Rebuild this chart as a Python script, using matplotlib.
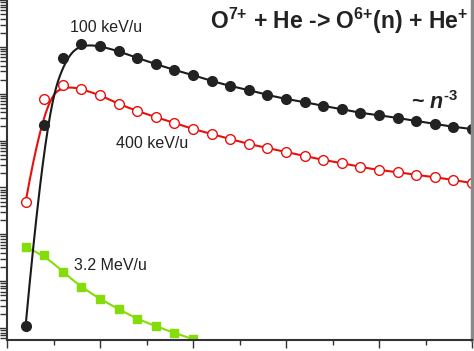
import numpy as np
import matplotlib
matplotlib.use("Agg")
import matplotlib.pyplot as plt
from matplotlib.ticker import MultipleLocator, LogLocator, NullFormatter

plt.rcParams['font.family'] = ['Liberation Sans', 'DejaVu Sans']
plt.rcParams['mathtext.fontset'] = 'custom'
plt.rcParams['mathtext.rm'] = 'Liberation Sans:bold'
plt.rcParams['mathtext.it'] = 'Liberation Sans:bold:italic'
plt.rcParams['mathtext.bf'] = 'Liberation Sans:bold'

# principal quantum number n
n_100 = list(range(1, 26))
n_400 = list(range(1, 26))
n_3200 = list(range(1, 11))

# capture cross sections (cm^2)
sigma_100 = [1.10e-24, 2.15e-20, 5.8e-19, 1.15e-18, 1.04e-18, 8.1e-19, 5.8e-19,
             4.3e-19, 3.2e-19, 2.5e-19, 1.87e-19, 1.46e-19, 1.20e-19, 9.4e-20,
             7.7e-20, 6.65e-20, 5.46e-20, 4.71e-20, 3.87e-20, 3.51e-20, 3.03e-20,
             2.61e-20, 2.26e-20, 1.95e-20, 1.77e-20]
sigma_400 = [4.9e-22, 7.7e-20, 1.53e-19, 1.26e-19, 9.4e-20, 6.03e-20, 4.27e-20,
             3.18e-20, 2.37e-20, 1.77e-20, 1.38e-20, 1.08e-20, 8.45e-21, 6.94e-21,
             5.70e-21, 4.69e-21, 3.85e-21, 3.32e-21, 2.73e-21, 2.35e-21, 2.13e-21,
             1.84e-21, 1.67e-21, 1.44e-21, 1.24e-21]
sigma_3200 = [5.35e-23, 3.61e-23, 1.57e-23, 7.5e-24, 4.16e-24, 2.54e-24,
              1.56e-24, 1.10e-24, 7.8e-25, 5.8e-25]


def bspline(x, y, num=300):
    # clamped cubic B-spline with the points as control points (in log y)
    P = np.column_stack([np.asarray(x, float), np.log10(y)])
    m = len(P)
    k = 3
    knots = np.concatenate([np.zeros(k), np.arange(m - k + 1), np.full(k, m - k)])
    t = np.linspace(0, m - k, num)
    t[-1] -= 1e-9
    out = np.zeros((num, 2))
    for i in range(num):
        N = np.array([1.0 if knots[j] <= t[i] < knots[j + 1] else 0.0
                      for j in range(len(knots) - 1)])
        for d in range(1, k + 1):
            Nn = np.zeros(len(knots) - 1 - d)
            for j in range(len(Nn)):
                a = 0.0
                if knots[j + d] != knots[j]:
                    a = (t[i] - knots[j]) / (knots[j + d] - knots[j]) * N[j]
                b = 0.0
                if knots[j + d + 1] != knots[j + 1]:
                    b = (knots[j + d + 1] - t[i]) / (knots[j + d + 1] - knots[j + 1]) * N[j + 1]
                Nn[j] = a + b
            N = Nn
        out[i] = N @ P
    return out[:, 0], 10 ** out[:, 1]


fig = plt.figure(figsize=(4.74, 3.51), dpi=100)
ax = fig.add_axes([7 / 474, 11 / 351, 465 / 474, 340 / 351])

green = '#84dc08'
xs, ys = bspline(n_3200, sigma_3200)
ax.plot(xs, ys, color=green, lw=1.5)
ax.plot(n_3200, sigma_3200, 's', color=green, ms=6, mec=green)

xs, ys = bspline(n_400, sigma_400)
ax.plot(xs, ys, color='#e8100c', lw=1.5)
ax.plot(n_400, sigma_400, 'o', mfc='white', mec='#e8100c', mew=1.0, ms=7)

xs, ys = bspline(n_100, sigma_100)
ax.plot(xs, ys, color='#1a1a1a', lw=1.5)
ax.plot(n_100, sigma_100, 'o', color='#222222', ms=7)

ax.set_yscale('log')
ax.set_xlim(0, 25)
ax.set_ylim(5.55e-25, 1e-17)

ax.xaxis.set_major_locator(MultipleLocator(5))
ax.xaxis.set_minor_locator(MultipleLocator(2.5))
ax.yaxis.set_major_locator(LogLocator(base=10, numticks=20))
ax.yaxis.set_minor_locator(LogLocator(base=10, subs=np.arange(2, 10), numticks=20))
ax.xaxis.set_major_formatter(NullFormatter())
ax.yaxis.set_major_formatter(NullFormatter())
ax.yaxis.set_minor_formatter(NullFormatter())
ax.tick_params(which='both', direction='out', color='#333333', width=1.0)
ax.tick_params(which='major', length=6)
ax.tick_params(which='minor', length=3.5)
ax.tick_params(axis='y', which='major', length=9)
ax.tick_params(axis='y', which='minor', length=5)
ax.tick_params(right=False, top=False)

ax.spines['top'].set_visible(False)
ax.spines['left'].set_color('#333333')
ax.spines['left'].set_linewidth(1.5)
ax.spines['bottom'].set_color('#333333')
ax.spines['bottom'].set_linewidth(1.5)
ax.spines['right'].set_color('#8a8a8a')
ax.spines['right'].set_linewidth(2.5)

ax.annotate('100 keV/u', xy=(106 / 474, 1 - 28 / 351), xycoords='figure fraction',
            ha='center', va='center', fontsize=11.5, color='#222222')
ax.annotate('400 keV/u', xy=(152 / 474, 1 - 143 / 351), xycoords='figure fraction',
            ha='center', va='center', fontsize=11.5, color='#222222')
ax.annotate('3.2 MeV/u', xy=(110 / 474, 1 - 266 / 351), xycoords='figure fraction',
            ha='center', va='center', fontsize=11.5, color='#222222')
fig.text(468 / 474, 1 - 21 / 351, r'O$^{7{+}}$ + He -> O$^{6{+}}$(n) + He$^{{+}}$',
         ha='right', va='center', fontsize=16.5, fontweight='bold', color='#222222')
fig.text(458 / 474, 1 - 103 / 351, r'~ $n^{\text{-3}}$',
         ha='right', va='center', fontsize=15.5, fontweight='bold', color='#222222')

fig.savefig('out.png', dpi=100)
